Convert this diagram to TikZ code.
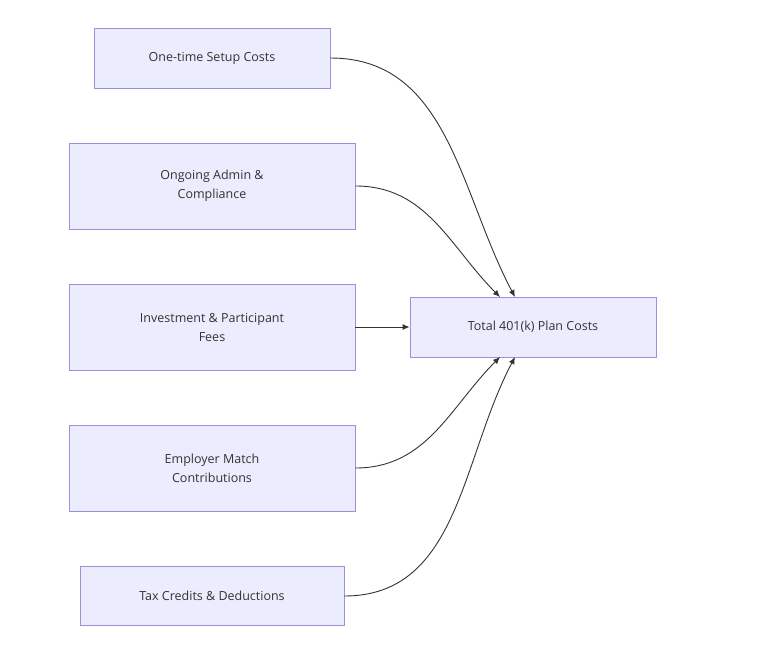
\documentclass[tikz,border=0pt]{standalone}
\usepackage{fontspec}
\setmainfont{Open Sans}
\usetikzlibrary{arrows.meta}
\definecolor{boxfill}{HTML}{ECECFF}
\definecolor{boxline}{HTML}{9F8FDB}
\definecolor{ink}{HTML}{333333}
\tikzset{
 box/.style={draw=boxline,fill=boxfill,line width=0.9pt,align=center,font=\fontsize{12.5}{19}\selectfont,text=ink,inner sep=0pt},
 conn/.style={draw=ink,line width=0.9pt,-{Latex[length=7pt,width=6pt]}}
}
\begin{document}
\begin{tikzpicture}[x=1pt,y=-1pt]
\useasboundingbox (0,0) rectangle (768,659);
\node[box,minimum width=236pt,minimum height=60pt] (a) at (212,58) {One-time Setup Costs};
\node[box,minimum width=286pt,minimum height=86pt] (b) at (212,186) {Ongoing Admin \&\\Compliance};
\node[box,minimum width=286pt,minimum height=86pt] (c) at (212,327) {Investment \& Participant\\Fees};
\node[box,minimum width=286pt,minimum height=86pt] (d) at (212,468) {Employer Match\\Contributions};
\node[box,minimum width=264pt,minimum height=59pt] (e) at (212,596) {Tax Credits \& Deductions};
\node[box,minimum width=246pt,minimum height=60pt] (t) at (533,327) {Total 401(k) Plan Costs};
\coordinate (t1) at (515,297);
\coordinate (t2) at (500,297);
\coordinate (t4) at (500,357);
\coordinate (t5) at (515,357);
\draw[conn] (a.east) to[out=0,in=118] (t1);
\draw[conn] (b.east) to[out=0,in=135] (t2);
\draw[conn] (c.east) -- (t.west);
\draw[conn] (d.east) to[out=0,in=-135] (t4);
\draw[conn] (e.east) to[out=0,in=-118] (t5);
\end{tikzpicture}
\end{document}
